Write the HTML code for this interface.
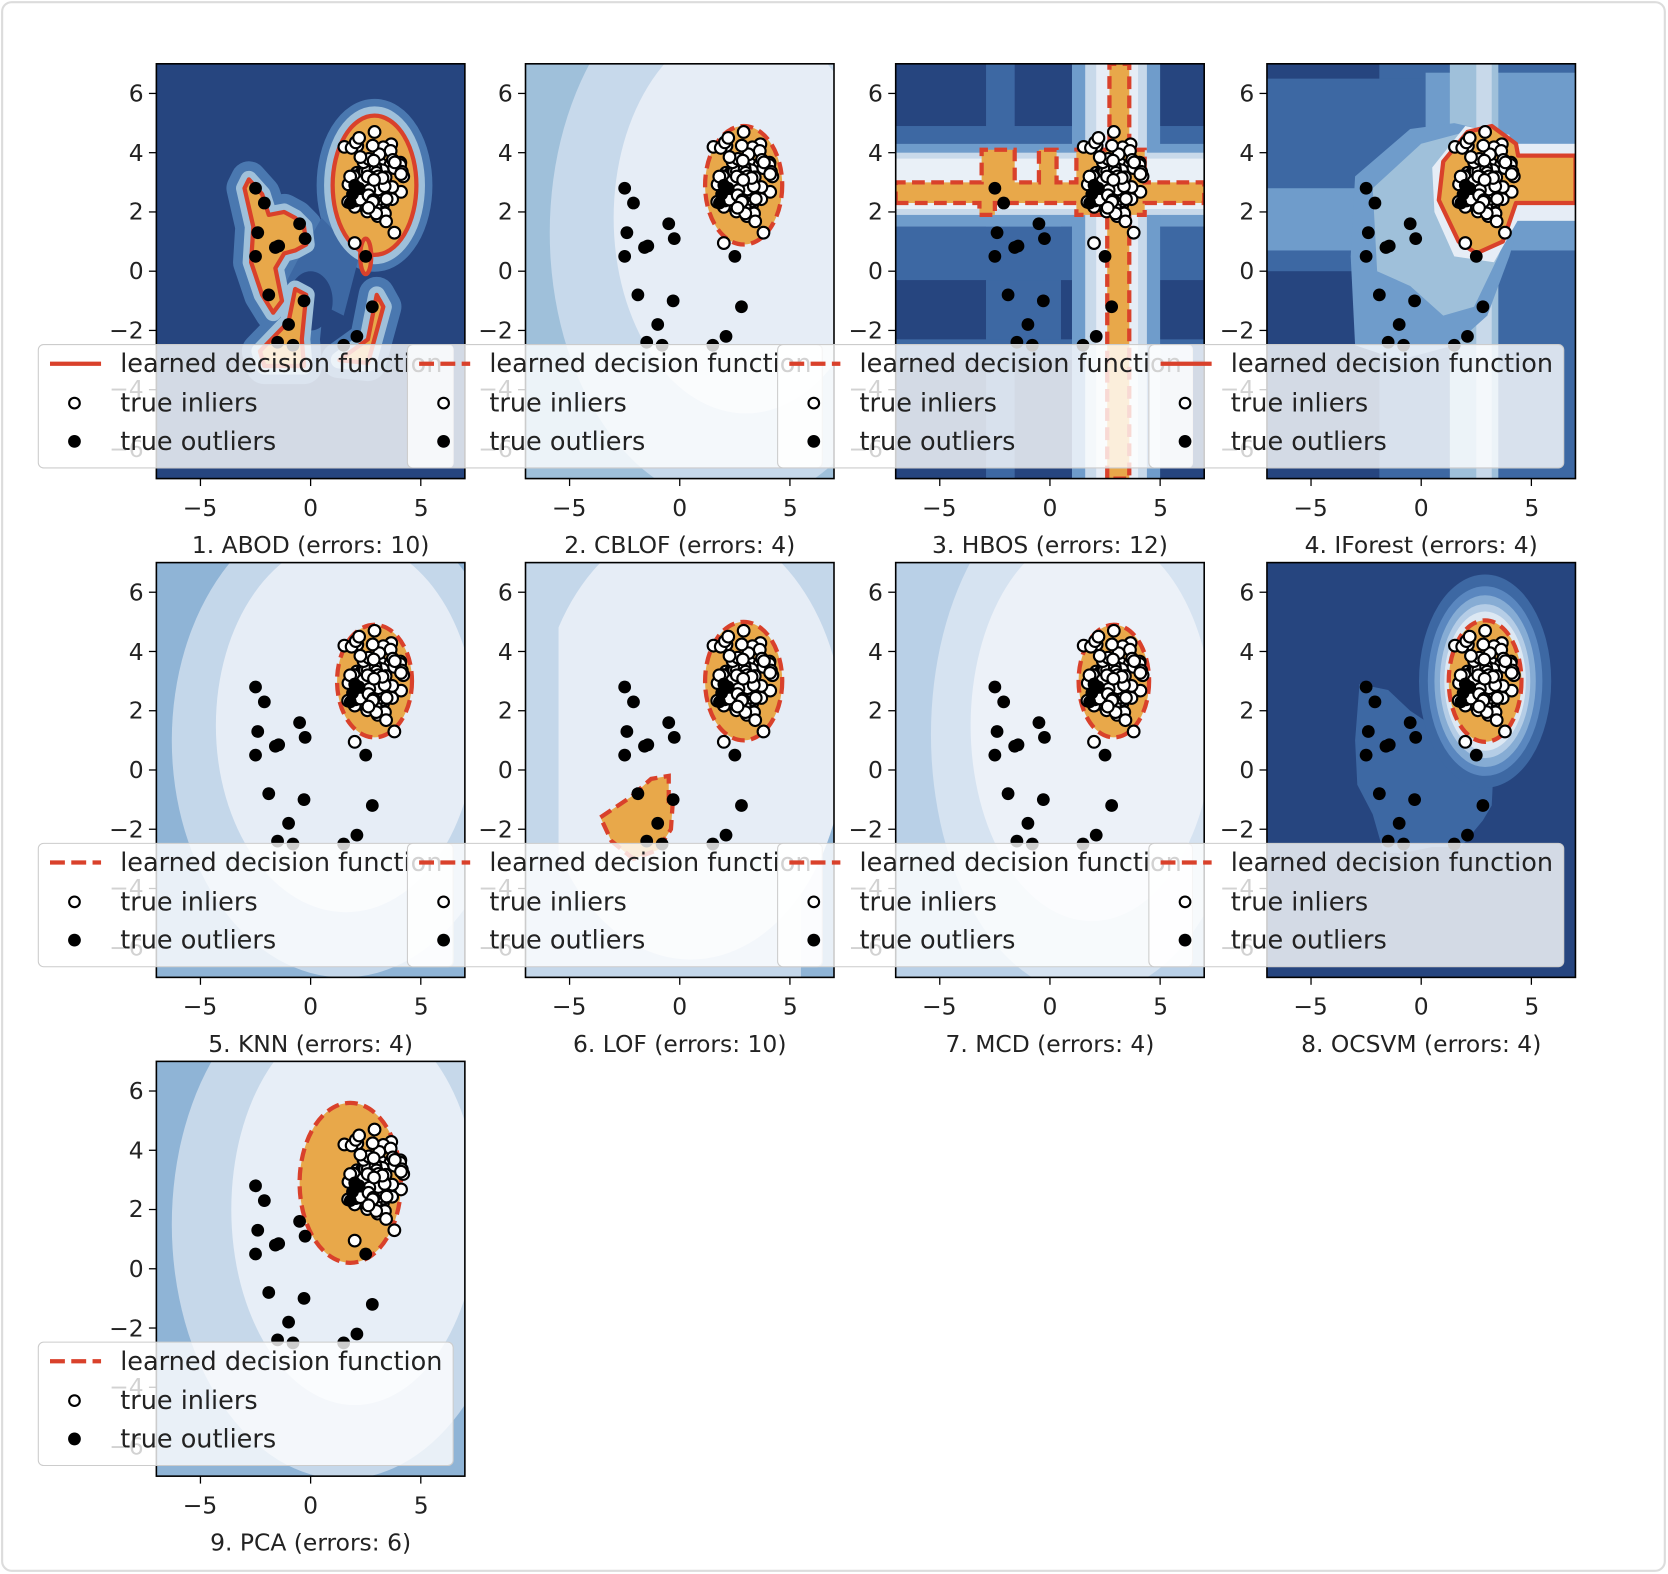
<!DOCTYPE html>
<html><head><meta charset="utf-8"><style>
html,body{margin:0;padding:0;background:#fff;}
svg{display:block;}
text{font-family:"DejaVu Sans","Liberation Sans",sans-serif;fill:#222;}
.t{font-size:22px;}
.yl{text-anchor:end;dominant-baseline:central;}
.xl{text-anchor:middle;}
.lg{font-size:24px;}
</style></head><body>
<svg id="s" width="1668" height="1574" viewBox="0 0 1568 1480" preserveAspectRatio="none" xmlns="http://www.w3.org/2000/svg">
<rect x="2" y="2" width="1563" height="1475" rx="9" fill="#fff" stroke="#dcdcdc" stroke-width="2"/>
<defs>
<clipPath id="cp"><rect x="0" y="0" width="290" height="390"/></clipPath>
</defs>
<g id="panels"></g>
<g id="ticks">
<g transform="translate(147,60)"><text class="t yl" x="-12" y="28">6</text><text class="t yl" x="-12" y="84">4</text><text class="t yl" x="-12" y="139">2</text><text class="t yl" x="-12" y="195">0</text><text class="t yl" x="-12" y="251">−2</text><text class="t yl" x="-12" y="306">−4</text><text class="t yl" x="-12" y="362">−6</text><text class="t xl" x="41" y="425">−5</text><text class="t xl" x="145" y="425">0</text><text class="t xl" x="249" y="425">5</text><text class="t xl" x="145" y="460">1. ABOD (errors: 10)</text></g>
<g transform="translate(494,60)"><text class="t yl" x="-12" y="28">6</text><text class="t yl" x="-12" y="84">4</text><text class="t yl" x="-12" y="139">2</text><text class="t yl" x="-12" y="195">0</text><text class="t yl" x="-12" y="251">−2</text><text class="t yl" x="-12" y="306">−4</text><text class="t yl" x="-12" y="362">−6</text><text class="t xl" x="41" y="425">−5</text><text class="t xl" x="145" y="425">0</text><text class="t xl" x="249" y="425">5</text><text class="t xl" x="145" y="460">2. CBLOF (errors: 4)</text></g>
<g transform="translate(842,60)"><text class="t yl" x="-12" y="28">6</text><text class="t yl" x="-12" y="84">4</text><text class="t yl" x="-12" y="139">2</text><text class="t yl" x="-12" y="195">0</text><text class="t yl" x="-12" y="251">−2</text><text class="t yl" x="-12" y="306">−4</text><text class="t yl" x="-12" y="362">−6</text><text class="t xl" x="41" y="425">−5</text><text class="t xl" x="145" y="425">0</text><text class="t xl" x="249" y="425">5</text><text class="t xl" x="145" y="460">3. HBOS (errors: 12)</text></g>
<g transform="translate(1191,60)"><text class="t yl" x="-12" y="28">6</text><text class="t yl" x="-12" y="84">4</text><text class="t yl" x="-12" y="139">2</text><text class="t yl" x="-12" y="195">0</text><text class="t yl" x="-12" y="251">−2</text><text class="t yl" x="-12" y="306">−4</text><text class="t yl" x="-12" y="362">−6</text><text class="t xl" x="41" y="425">−5</text><text class="t xl" x="145" y="425">0</text><text class="t xl" x="249" y="425">5</text><text class="t xl" x="145" y="460">4. IForest (errors: 4)</text></g>
<g transform="translate(147,529)"><text class="t yl" x="-12" y="28">6</text><text class="t yl" x="-12" y="84">4</text><text class="t yl" x="-12" y="139">2</text><text class="t yl" x="-12" y="195">0</text><text class="t yl" x="-12" y="251">−2</text><text class="t yl" x="-12" y="306">−4</text><text class="t yl" x="-12" y="362">−6</text><text class="t xl" x="41" y="425">−5</text><text class="t xl" x="145" y="425">0</text><text class="t xl" x="249" y="425">5</text><text class="t xl" x="145" y="460">5. KNN (errors: 4)</text></g>
<g transform="translate(494,529)"><text class="t yl" x="-12" y="28">6</text><text class="t yl" x="-12" y="84">4</text><text class="t yl" x="-12" y="139">2</text><text class="t yl" x="-12" y="195">0</text><text class="t yl" x="-12" y="251">−2</text><text class="t yl" x="-12" y="306">−4</text><text class="t yl" x="-12" y="362">−6</text><text class="t xl" x="41" y="425">−5</text><text class="t xl" x="145" y="425">0</text><text class="t xl" x="249" y="425">5</text><text class="t xl" x="145" y="460">6. LOF (errors: 10)</text></g>
<g transform="translate(842,529)"><text class="t yl" x="-12" y="28">6</text><text class="t yl" x="-12" y="84">4</text><text class="t yl" x="-12" y="139">2</text><text class="t yl" x="-12" y="195">0</text><text class="t yl" x="-12" y="251">−2</text><text class="t yl" x="-12" y="306">−4</text><text class="t yl" x="-12" y="362">−6</text><text class="t xl" x="41" y="425">−5</text><text class="t xl" x="145" y="425">0</text><text class="t xl" x="249" y="425">5</text><text class="t xl" x="145" y="460">7. MCD (errors: 4)</text></g>
<g transform="translate(1191,529)"><text class="t yl" x="-12" y="28">6</text><text class="t yl" x="-12" y="84">4</text><text class="t yl" x="-12" y="139">2</text><text class="t yl" x="-12" y="195">0</text><text class="t yl" x="-12" y="251">−2</text><text class="t yl" x="-12" y="306">−4</text><text class="t yl" x="-12" y="362">−6</text><text class="t xl" x="41" y="425">−5</text><text class="t xl" x="145" y="425">0</text><text class="t xl" x="249" y="425">5</text><text class="t xl" x="145" y="460">8. OCSVM (errors: 4)</text></g>
<g transform="translate(147,998)"><text class="t yl" x="-12" y="28">6</text><text class="t yl" x="-12" y="84">4</text><text class="t yl" x="-12" y="139">2</text><text class="t yl" x="-12" y="195">0</text><text class="t yl" x="-12" y="251">−2</text><text class="t yl" x="-12" y="306">−4</text><text class="t yl" x="-12" y="362">−6</text><text class="t xl" x="41" y="425">−5</text><text class="t xl" x="145" y="425">0</text><text class="t xl" x="249" y="425">5</text><text class="t xl" x="145" y="460">9. PCA (errors: 6)</text></g>
</g>
<g id="legends">
<g transform="translate(147,60)"><rect x="-111" y="264" width="390" height="116" rx="5" fill="#fff" fill-opacity="0.8" stroke="#ccc"/><line x1="-100" y1="282" x2="-52" y2="282" stroke="#d9412b" stroke-width="4"/><circle cx="-77" cy="319" r="5" fill="#fff" stroke="#000" stroke-width="2"/><circle cx="-77" cy="355" r="6" fill="#000"/><text class="lg" x="-34" y="290">learned decision function</text><text class="lg" x="-34" y="327">true inliers</text><text class="lg" x="-34" y="363">true outliers</text></g>
<g transform="translate(494,60)"><rect x="-111" y="264" width="390" height="116" rx="5" fill="#fff" fill-opacity="0.8" stroke="#ccc"/><line x1="-100" y1="282" x2="-52" y2="282" stroke="#d9412b" stroke-width="4" stroke-dasharray="14,6"/><circle cx="-77" cy="319" r="5" fill="#fff" stroke="#000" stroke-width="2"/><circle cx="-77" cy="355" r="6" fill="#000"/><text class="lg" x="-34" y="290">learned decision function</text><text class="lg" x="-34" y="327">true inliers</text><text class="lg" x="-34" y="363">true outliers</text></g>
<g transform="translate(842,60)"><rect x="-111" y="264" width="390" height="116" rx="5" fill="#fff" fill-opacity="0.8" stroke="#ccc"/><line x1="-100" y1="282" x2="-52" y2="282" stroke="#d9412b" stroke-width="4" stroke-dasharray="14,6"/><circle cx="-77" cy="319" r="5" fill="#fff" stroke="#000" stroke-width="2"/><circle cx="-77" cy="355" r="6" fill="#000"/><text class="lg" x="-34" y="290">learned decision function</text><text class="lg" x="-34" y="327">true inliers</text><text class="lg" x="-34" y="363">true outliers</text></g>
<g transform="translate(1191,60)"><rect x="-111" y="264" width="390" height="116" rx="5" fill="#fff" fill-opacity="0.8" stroke="#ccc"/><line x1="-100" y1="282" x2="-52" y2="282" stroke="#d9412b" stroke-width="4"/><circle cx="-77" cy="319" r="5" fill="#fff" stroke="#000" stroke-width="2"/><circle cx="-77" cy="355" r="6" fill="#000"/><text class="lg" x="-34" y="290">learned decision function</text><text class="lg" x="-34" y="327">true inliers</text><text class="lg" x="-34" y="363">true outliers</text></g>
<g transform="translate(147,529)"><rect x="-111" y="264" width="390" height="116" rx="5" fill="#fff" fill-opacity="0.8" stroke="#ccc"/><line x1="-100" y1="282" x2="-52" y2="282" stroke="#d9412b" stroke-width="4" stroke-dasharray="14,6"/><circle cx="-77" cy="319" r="5" fill="#fff" stroke="#000" stroke-width="2"/><circle cx="-77" cy="355" r="6" fill="#000"/><text class="lg" x="-34" y="290">learned decision function</text><text class="lg" x="-34" y="327">true inliers</text><text class="lg" x="-34" y="363">true outliers</text></g>
<g transform="translate(494,529)"><rect x="-111" y="264" width="390" height="116" rx="5" fill="#fff" fill-opacity="0.8" stroke="#ccc"/><line x1="-100" y1="282" x2="-52" y2="282" stroke="#d9412b" stroke-width="4" stroke-dasharray="14,6"/><circle cx="-77" cy="319" r="5" fill="#fff" stroke="#000" stroke-width="2"/><circle cx="-77" cy="355" r="6" fill="#000"/><text class="lg" x="-34" y="290">learned decision function</text><text class="lg" x="-34" y="327">true inliers</text><text class="lg" x="-34" y="363">true outliers</text></g>
<g transform="translate(842,529)"><rect x="-111" y="264" width="390" height="116" rx="5" fill="#fff" fill-opacity="0.8" stroke="#ccc"/><line x1="-100" y1="282" x2="-52" y2="282" stroke="#d9412b" stroke-width="4" stroke-dasharray="14,6"/><circle cx="-77" cy="319" r="5" fill="#fff" stroke="#000" stroke-width="2"/><circle cx="-77" cy="355" r="6" fill="#000"/><text class="lg" x="-34" y="290">learned decision function</text><text class="lg" x="-34" y="327">true inliers</text><text class="lg" x="-34" y="363">true outliers</text></g>
<g transform="translate(1191,529)"><rect x="-111" y="264" width="390" height="116" rx="5" fill="#fff" fill-opacity="0.8" stroke="#ccc"/><line x1="-100" y1="282" x2="-52" y2="282" stroke="#d9412b" stroke-width="4" stroke-dasharray="14,6"/><circle cx="-77" cy="319" r="5" fill="#fff" stroke="#000" stroke-width="2"/><circle cx="-77" cy="355" r="6" fill="#000"/><text class="lg" x="-34" y="290">learned decision function</text><text class="lg" x="-34" y="327">true inliers</text><text class="lg" x="-34" y="363">true outliers</text></g>
<g transform="translate(147,998)"><rect x="-111" y="264" width="390" height="116" rx="5" fill="#fff" fill-opacity="0.8" stroke="#ccc"/><line x1="-100" y1="282" x2="-52" y2="282" stroke="#d9412b" stroke-width="4" stroke-dasharray="14,6"/><circle cx="-77" cy="319" r="5" fill="#fff" stroke="#000" stroke-width="2"/><circle cx="-77" cy="355" r="6" fill="#000"/><text class="lg" x="-34" y="290">learned decision function</text><text class="lg" x="-34" y="327">true inliers</text><text class="lg" x="-34" y="363">true outliers</text></g>
</g>
</svg>
<script>
(function(){
var NS="http://www.w3.org/2000/svg";
var root=document.getElementById("panels");
var SX=290/14, SY=390/14;
function X(x){return (x+7)*SX;} function Y(y){return (7-y)*SY;}
function el(p,tag,a){var e=document.createElementNS(NS,tag);for(var k in a)e.setAttribute(k,a[k]);p.appendChild(e);return e;}
function ell(g,cx,cy,rx,ry,a){a=a||{};a.cx=X(cx);a.cy=Y(cy);a.rx=rx*SX;a.ry=ry*SY;return el(g,"ellipse",a);}
function rect(g,x0,x1,y0,y1,fill,extra){var a=extra||{};a.x=X(x0);a.y=Y(y1);a.width=(x1-x0)*SX;a.height=(y1-y0)*SY;a.fill=fill;return el(g,"rect",a);}
function poly(g,pts,a){a=a||{};a.points=pts.map(function(p){return X(p[0])+","+Y(p[1]);}).join(" ");return el(g,"polygon",a);}
var ORG="#e8a84a", RED="#d9412b";
var DASH={fill:ORG,stroke:RED,"stroke-width":4,"stroke-dasharray":"12,6"};
var SOL={fill:ORG,stroke:RED,"stroke-width":4,"stroke-linejoin":"round"};
function cp(o){var r={};for(var k in o)r[k]=o[k];return r;}
var seed=7;function rnd(){seed=(seed*16807)%2147483647;return (seed-1)/2147483646;}
function gauss(){var g;do{var u=rnd()||1e-9,v=rnd();g=Math.sqrt(-2*Math.log(u))*Math.cos(2*Math.PI*v);}while(Math.abs(g)>2.0);return g;}
var inl=[];for(var i=0;i<120;i++){inl.push([2.85+0.7*gauss(),3.0+0.7*gauss()]);}
inl.push([2.0,0.95]);inl.push([3.8,1.3]);inl.push([2.9,4.7]);inl.push([2.2,4.5]);
var out=[[-2.5,2.8],[-2.1,2.3],[-2.4,1.3],[-1.6,0.8],[-1.45,0.85],[-2.5,0.5],[-0.5,1.6],[-0.25,1.1],[-1.9,-0.8],[-0.3,-1.0],[-1.0,-1.8],[-1.5,-2.4],[-0.8,-2.5],[1.5,-2.5],[2.1,-2.2],[2.8,-1.2],[2.5,0.5],[1.9,2.6],[1.8,2.3],[2.2,2.8],[2.0,2.9]];
var P=[[147,60],[494,60],[842,60],[1191,60],[147,529],[494,529],[842,529],[1191,529],[147,998]];
var DB="#26457f";
var draws=[
function(g){rect(g,-7,7,-7,7,DB);
 var L=[[-2.8,3.1],[-2.2,2.6],[-1.9,1.9],[-1.2,2.0],[-0.7,1.8],[-0.3,1.5],[-0.2,0.9],[-0.7,0.7],[-1.2,0.6],[-1.6,0.1],[-1.3,-1.0],[-1.7,-1.4],[-2.2,-0.8],[-2.7,0.3],[-2.6,1.5],[-3.0,2.8]];
 var B1=[[-2.3,-2.7],[-1.0,-1.7],[-0.7,-0.6],[-0.2,-0.8],[-0.4,-2.3],[-0.3,-3.2],[-2.1,-3.2]];
 var B2=[[1.3,-3.0],[2.6,-2.3],[3.0,-0.8],[3.3,-1.2],[2.6,-3.1]];
 var shapes=[L,B1,B2];
 shapes.forEach(function(s){poly(g,s,{fill:"#4a78b0",stroke:"#4a78b0","stroke-width":34,"stroke-linejoin":"round"});});
 ell(g,2.9,2.9,2.0,2.45,{fill:"#4a78b0",stroke:"#4a78b0","stroke-width":26});
 poly(g,[[-1.2,-0.5],[1.5,-1.5],[2.2,0.5],[0.5,1.8],[-0.5,0.5]],{fill:"#3d68a3"});
 ell(g,0.0,-1.0,1.0,1.0,{fill:DB});
 shapes.forEach(function(s){poly(g,s,{fill:"#9fc0da",stroke:"#9fc0da","stroke-width":16,"stroke-linejoin":"round"});});
 ell(g,2.9,2.9,2.0,2.45,{fill:"#9fc0da",stroke:"#9fc0da","stroke-width":12});
 shapes.forEach(function(s){poly(g,s,SOL);});
 ell(g,2.9,2.9,1.9,2.35,cp(SOL));
 ell(g,2.5,0.5,0.25,0.6,cp(SOL));
},
function(g){rect(g,-7,7,-7,7,"#9fc0da");ell(g,2.5,1.3,8.4,9.2,{fill:"#c7d9eb"});ell(g,3.0,1.8,6.0,6.6,{fill:"#e6edf6"});ell(g,2.9,2.9,1.75,2.0,cp(DASH));},
function(g){rect(g,-7,7,-7,7,DB);
 rect(g,-2.9,-1.6,-7,7,"#3d68a3");rect(g,-2.9,0.5,-2.6,3,"#3d68a3");
 rect(g,-7,7,4.3,4.9,"#3d68a3");rect(g,-7,7,1.5,4.3,"#6f9ccb");rect(g,-7,7,-0.3,1.5,"#3d68a3");
 rect(g,-7,7,-3,-2.3,"#3d68a3");
 rect(g,1.0,5.0,-7,7,"#6f9ccb");rect(g,1.6,4.4,-7,7,"#c8d9ea");rect(g,2.1,4.0,-7,7,"#e6edf6");
 rect(g,-7,7,1.9,4.0,"#c8d9ea");rect(g,-7,7,2.1,3.8,"#e9f0f7");
 var cross=[[-7,2.3],[-3.2,2.3],[-3.2,1.9],[-2.5,1.9],[-2.5,2.3],[1.2,2.3],[1.2,1.9],[2.6,1.9],[2.6,-7],[3.6,-7],[3.6,1.9],[4.3,1.9],[4.3,2.3],[7,2.3],[7,3.0],[4.3,3.0],[4.3,4.1],[3.6,4.1],[3.6,7],[2.7,7],[2.7,4.1],[1.2,4.1],[1.2,3.0],[0.3,3.0],[0.3,4.1],[-0.5,4.1],[-0.5,3.0],[-1.6,3.0],[-1.6,4.1],[-3.1,4.1],[-3.1,3.0],[-7,3.0]];
 poly(g,cross,cp(DASH));},
function(g){rect(g,-7,7,-7,7,DB);
 rect(g,-1.9,7,-7,7,"#3d68a3");rect(g,-7,7,0,6.5,"#3d68a3");
 rect(g,-7,7,0.7,2.8,"#6f9ccb");rect(g,0.2,7,2,6.7,"#6f9ccb");
 rect(g,1.3,3.5,-7,7,"#9fc0da");rect(g,2.5,3.2,-7,7,"#c8d9ea");
 poly(g,[[-3,3.2],[-0.5,4.8],[1.5,5.0],[4.5,4.5],[5,3],[4,0.5],[3,-1.5],[1.5,-2.5],[-1,-3],[-3,-2.5],[-3.2,0.5]],{fill:"#6f9ccb"});
 poly(g,[[-2.2,2.8],[0,4.3],[2,4.7],[4.2,4.2],[4.5,2.5],[3.5,0.5],[2.4,-1.2],[1,-1.5],[-0.5,-0.5],[-2,0]],{fill:"#9fc0da"});
 poly(g,[[0.5,3.5],[2,4.9],[4,4.6],[4.6,2],[3.3,0.3],[1.5,0.5],[0.6,2]],{fill:"#e6edf6"});
 rect(g,3.5,7,1.7,4.3,"#e6edf6");
 poly(g,[[1.0,3.7],[2.1,4.7],[3.2,4.9],[4.3,4.3],[4.4,3.9],[7,3.9],[7,2.3],[4.3,2.3],[3.7,1.0],[2.5,0.6],[1.7,1.0],[0.8,2.4]],cp(SOL));},
function(g){rect(g,-7,7,-7,7,"#8fb4d6");ell(g,1.5,1.0,7.8,8.0,{fill:"#c4d7ea"});ell(g,1.6,1.5,5.9,6.3,{fill:"#e6edf6"});ell(g,2.9,3.0,1.7,1.9,cp(DASH));},
function(g){rect(g,-7,7,-7,7,"#c4d7ea");rect(g,5.5,7,-7,3,"#8fb4d6");ell(g,0.5,1.0,7.0,7.4,{fill:"#e6edf6"});rect(g,-7,-5.5,-7,5,"#c4d7ea");
 ell(g,2.9,3.0,1.75,2.0,cp(DASH));
 poly(g,[[-3.6,-1.6],[-2.2,-0.9],[-1.3,-0.3],[-0.5,-0.2],[-0.5,-1.0],[-0.3,-0.9],[-0.4,-2.0],[-1.0,-2.7],[-2.1,-3.0],[-3.1,-2.4]],cp(DASH));},
function(g){rect(g,-7,7,-7,7,"#b9d0e7");ell(g,1.8,1.2,7.2,8.8,{fill:"#d6e3f1"});ell(g,1.9,1.5,5.5,6.6,{fill:"#ecf1f8"});ell(g,2.9,3.0,1.6,1.9,cp(DASH));},
function(g){rect(g,-7,7,-7,7,DB);
 poly(g,[[-2.8,2.9],[-1.5,2.7],[-0.5,2.0],[0.5,1.5],[1.5,1.0],[3.3,0.3],[3.2,-1.2],[2.8,-1.7],[1.8,-2.6],[0.5,-2.6],[-0.8,-2.8],[-1.7,-2.8],[-2.2,-1.5],[-2.9,-0.5],[-3.0,1.0]],{fill:"#3d68a3"});
 ell(g,2.9,3.0,3.0,3.6,{fill:"#3d68a3"});ell(g,2.9,3.0,2.6,3.2,{fill:"#5a87bf"});ell(g,2.9,3.0,2.3,2.9,{fill:"#86acd4"});ell(g,2.9,3.0,2.05,2.6,{fill:"#b5cde6"});ell(g,2.9,3.0,1.85,2.35,{fill:"#dde8f3"});
 ell(g,2.9,3.0,1.65,2.05,cp(DASH));},
function(g){rect(g,-7,7,-7,7,"#8fb4d6");ell(g,1.5,1.5,7.8,8.6,{fill:"#c6d8ea"});ell(g,2.0,2.0,5.6,6.6,{fill:"#e7eef7"});ell(g,1.8,2.9,2.3,2.7,cp(DASH));}
];
P.forEach(function(p,i){
 var g=el(root,"g",{transform:"translate("+p[0]+","+p[1]+")"});
 var c=el(g,"g",{"clip-path":"url(#cp)"});
 draws[i](c);
 inl.forEach(function(q){el(c,"circle",{cx:X(q[0]),cy:Y(q[1]),r:5.5,fill:"#fff",stroke:"#000","stroke-width":2});});
 out.forEach(function(q){el(c,"circle",{cx:X(q[0]),cy:Y(q[1]),r:6,fill:"#000"});});
 el(g,"rect",{x:0,y:0,width:290,height:390,fill:"none",stroke:"#000","stroke-width":1.5});
 [6,4,2,0,-2,-4,-6].forEach(function(v){el(g,"line",{x1:-7,x2:0,y1:Y(v),y2:Y(v),stroke:"#000","stroke-width":1.2});});
 [-5,0,5].forEach(function(v){el(g,"line",{x1:X(v),x2:X(v),y1:390,y2:397,stroke:"#000","stroke-width":1.2});});
});
})();
</script>
</body></html>
